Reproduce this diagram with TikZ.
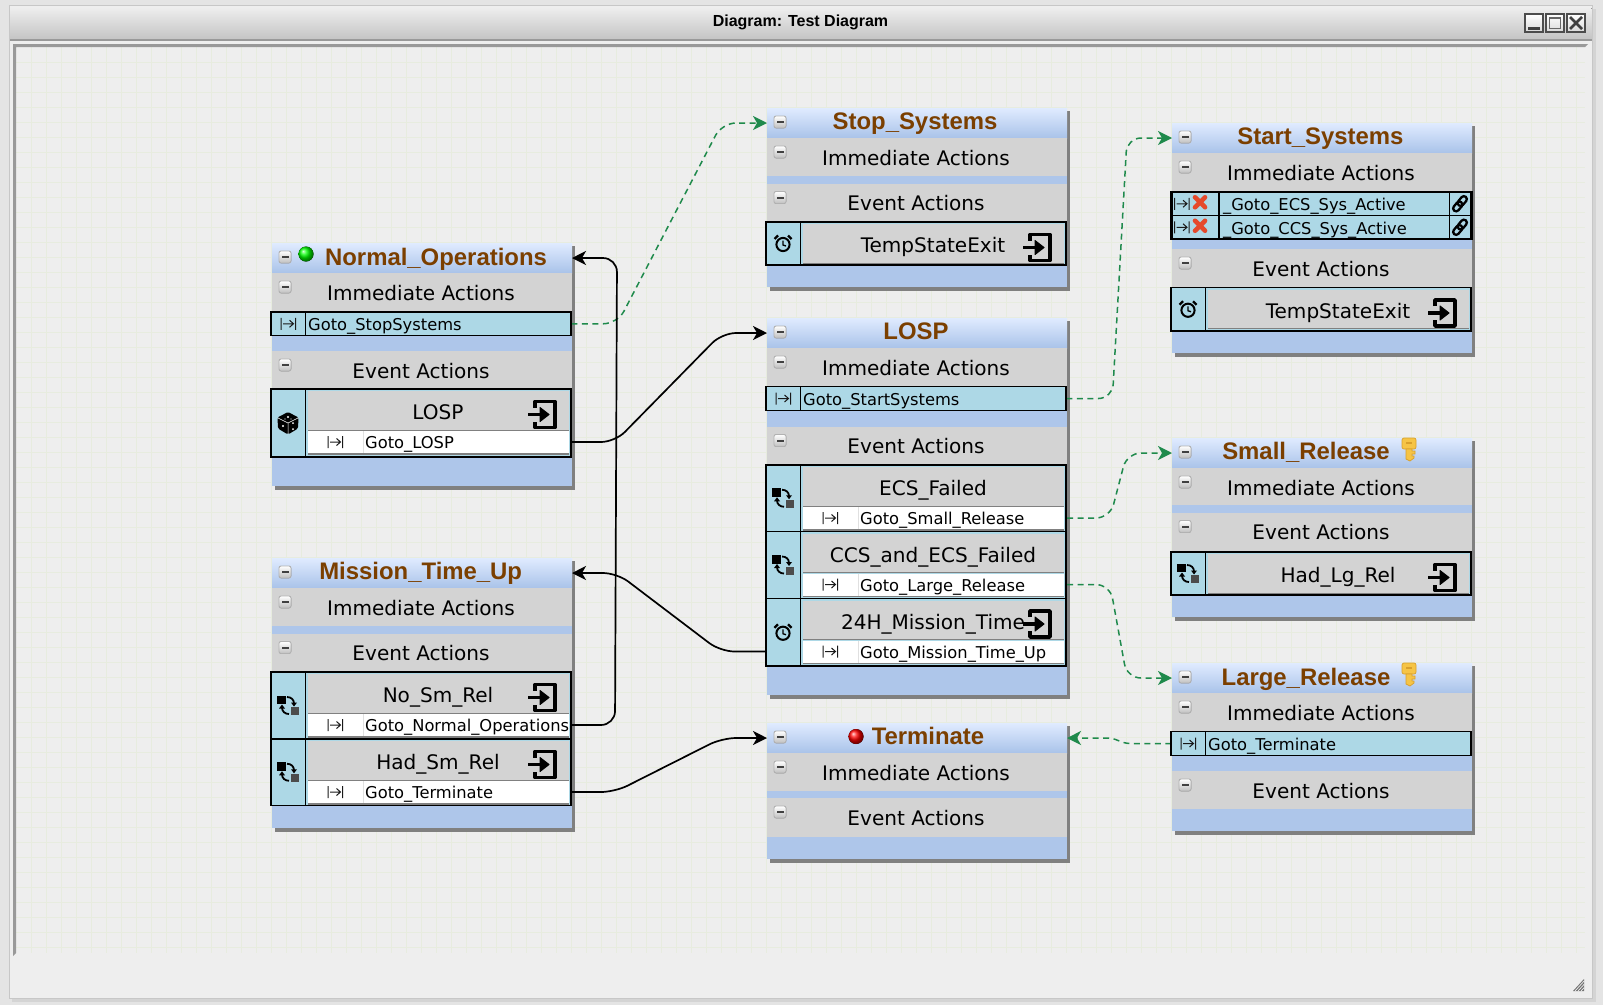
\documentclass[tikz,border=0pt]{standalone}
\usepackage{fontspec}
\setmainfont{DejaVu Sans}
\newfontfamily\libsans{Liberation Sans}
\usetikzlibrary{arrows.meta,calc,shadings}
\definecolor{pagec}{HTML}{E4E4E4}
\definecolor{winc}{HTML}{EEEEEE}
\definecolor{gridc}{HTML}{E7ECDF}
\definecolor{panelc}{HTML}{999999}
\definecolor{bodyc}{HTML}{AEC6EA}
\definecolor{headtop}{HTML}{E0EBFF}
\definecolor{headbot}{HTML}{A9C3E9}
\definecolor{greyc}{HTML}{D3D3D3}
\definecolor{rowc}{HTML}{ADD8E6}
\definecolor{titlec}{HTML}{7B3F00}
\definecolor{greenc}{HTML}{1F8A4C}
\definecolor{shadowc}{HTML}{808080}
\definecolor{goldc}{HTML}{F6C445}
\definecolor{golddark}{HTML}{D9A02C}
\definecolor{xred}{HTML}{E5492B}
\pgfdeclarelayer{back}
\pgfdeclarelayer{links}
\pgfsetlayers{back,links,main}
\tikzset{
  px/.style={anchor=north west,inner sep=0pt,outer sep=0pt},
  blockbody/.style={fill=bodyc},
  blockhead/.style={top color=headtop,bottom color=headbot},
  sectbox/.style={fill=greyc},
  rowbox/.style={fill=rowc,draw=black,line width=1.9pt},
  thinrow/.style={fill=rowc,draw=black,line width=1.1pt},
  framebox/.style={draw=black,line width=2.2pt},
  namecell/.style={fill=greyc},
  whitecell/.style={fill=white},
  titletext/.style={inner sep=0pt,anchor=base,text=titlec,font=\libsans\bfseries\fontsize{23.9}{28}\selectfont},
  bigtext/.style={inner sep=0pt,anchor=base,text=black,font=\fontsize{20.05}{24}\selectfont},
  smalltext/.style={inner sep=0pt,anchor=base west,text=black,font=\fontsize{16.3}{20}\selectfont},
  minusbox/.style={draw=black!30,rounded corners=2pt,line width=.9pt,top color=white,bottom color=black!25},
  conn/.style={rounded corners=14pt,-{Stealth[length=14pt,width=14pt,inset=4pt]}},
  blacklink/.style={conn,draw=black,line width=1.7pt},
  greenlink/.style={conn,draw=greenc,line width=1.5pt,dash pattern=on 6pt off 4.5pt},
  greensub/.style={greenlink,dash phase=7.5pt},
  greenshort/.style={greenlink,rounded corners=5pt},
  winbtn/.style={draw=black!70,line width=1.6pt,top color=white,bottom color=black!15},
}
\newcommand\pxbox[6]{\node[px,#1,minimum width={#5*1pt},minimum height={#6*1pt}] (#2) at (#3,#4) {};}
\newcommand\icMinus[2]{\begin{scope}[shift={(#1,#2)}]
  \fill[minusbox] (-6,-6) rectangle (6,6);
  \fill[black!75] (-3.5,-1) rectangle (3.5,1);
\end{scope}}
\newcommand\icGoto[2]{\begin{scope}[shift={(#1,#2)},draw=black!90,line width=1pt]
  \draw (-7,-6)--(-7,6) (7.5,-6)--(7.5,6) (-5,0)--(5,0) (1.5,-3.5)--(5.5,0)--(1.5,3.5);
\end{scope}}
\newcommand\icExit[2]{\begin{scope}[shift={(#1,#2-.5)},line width=3.6pt,line join=round]
  \draw (7,8)--(7,2)--(27,2)--(27,28)--(7,28)--(7,22);
  \draw (0,15)--(13,15);
  \fill[line width=1pt,draw=black] (12,8)--(21,15)--(12,22)--cycle;
\end{scope}}
\newcommand\icClock[2]{\begin{scope}[shift={(#1,#2)}]
  \draw[line width=2pt] (0,1) circle (6.6);
  \draw[line width=1.3pt] (0,-3)--(0,1.5)--(3,2.5);
  \draw[line width=2.2pt] (-8.5,-4.5)--(-5,-8) (8.5,-4.5)--(5,-8);
\end{scope}}
\newcommand\icSwap[2]{\begin{scope}[shift={(#1,#2)}]
  \fill[black] (-11,-10) rectangle (-2.5,-1.5);
  \fill[black!70] (2.5,1.5) rectangle (10.5,9.5);
  \draw[line width=1.8pt] (-1,-8.5) .. controls (3,-8.5) and (6,-6) .. (6,-2);
  \fill (3,-3)--(9,-3)--(6,1)--cycle;
  \draw[line width=1.8pt] (1,8.5) .. controls (-3,8.5) and (-6,6) .. (-6,2);
  \fill (-3,3)--(-9,3)--(-6,-1)--cycle;
\end{scope}}
\newcommand\icCube[2]{\begin{scope}[shift={(#1,#2)}]
  \fill[black,rounded corners=1.5pt] (0,-11)--(10.5,-5.5)--(10,5.5)--(0,11.5)--(-10,5.5)--(-10.5,-5.5)--cycle;
  \draw[white,line width=.5pt] (-10,-5)--(0,0)--(10,-5) (0,0)--(0,11);
  \fill[white] (0,-6) circle (1.2) (-5,3) circle (1.1) (5,0) circle (1) (5,6) circle (1) (-3,-4) circle (.7) (3,-4) circle (.7);
\end{scope}}
\newcommand\icCross[2]{\begin{scope}[shift={(#1,#2)}]
  \draw[xred,line width=4.6pt,line cap=round] (-5,-5)--(5,5) (5,-5)--(-5,5);
\end{scope}}
\newcommand\icChain[2]{\begin{scope}[shift={(#1,#2)},rotate=50]
  \draw[line width=2.3pt,rounded corners=3pt] (-9,-3)rectangle(2,3) (-2,-3)rectangle(9,3);
\end{scope}}
\newcommand\icKey[2]{\begin{scope}[shift={(#1,#2)}]
  \fill[goldc,draw=golddark,line width=.7pt,rounded corners=2pt] (-7,-11) rectangle (7,0);
  \fill[goldc,draw=golddark,line width=.7pt] (-3,0)--(3,0)--(3,2)--(6,2)--(6,5)--(3,5)--(3,7)--(5,7)--(5,9)--(1,12)--(-3,10)--cycle;
  \fill[golddark] (-3,-7.5) rectangle (3,-5.5);
\end{scope}}
\newcommand\stateblock[7]{% id x top bottom title titlecentre-offset title-baseline-offset
  \begin{pgfonlayer}{back}\fill[shadowc] (#2+3,#3+3) rectangle (#2+303,#4+3.5);\end{pgfonlayer}
  \pxbox{blockbody}{#1-body}{#2}{#3}{300}{#4-#3}
  \pxbox{blockhead}{#1}{#2}{#3}{300}{30}
  \icMinus{#2+13}{#3+14}
  \node[titletext] (#1-title) at (#2+#6,#3+#7) {#5};
}
\newcommand\sectbox[5]{% id x y h label
  \pxbox{sectbox}{#1}{#2}{#3}{300}{#4}
  \icMinus{#2+13}{#3+14}
  \node[bigtext] (#1-label) at (#2+149,#3+27) {#5};
}
\newcommand\gotorow[5]{% id x y h text
  \pxbox{rowbox}{#1}{#2-.6}{#3}{300}{#4}
  \draw[black,line width=1pt] (#2+33.5,#3)--(#2+33.5,#3+#4);
  \icGoto{#2+16}{#3+#4/2}
  \node[smalltext] (#1-text) at (#2+36,#3+18.8) {#5};
}
\newcommand\linkrow[5]{% id x y h text
  \pxbox{thinrow}{#1}{#2-.6}{#3}{300}{#4}
  \draw[black,line width=1.8pt] (#2+47,#3)--(#2+47,#3+#4);
  \draw[black,line width=1pt] (#2+277,#3)--(#2+277,#3+#4);
  \icGoto{#2+9.5}{#3+#4/2}
  \icCross{#2+28}{#3+#4/2-1.5}
  \icChain{#2+288}{#3+#4/2}
  \node[smalltext] (#1-text) at (#2+51,#3+18.6) {#5};
}
\newcommand\evrow[6]{% id x y h icon label
  \pxbox{rowbox}{#1}{#2-.6}{#3}{300}{#4}
  \draw[black,line width=1pt] (#2+33.5,#3)--(#2+33.5,#3+#4);
  #5{#2+16}{#3+#4/2}
  \pxbox{namecell}{#1-name}{#2+36}{#3+2}{261}{39}
  \draw[black!50,line width=1pt] (#2+36,#3+41)--(#2+297,#3+41);
  \node[bigtext] (#1-label) at (#2+166,#3+30.7) {#6};
}
\newcommand\subgoto[4]{% id x y text (y = top of owning row)
  \pxbox{whitecell}{#1}{#2+36}{#3+42}{261}{22}
  \draw[black!50,line width=1.8pt] (#2+36,#3+65)--(#2+297,#3+65);
  \draw[black!12,line width=.8pt] (#2+91,#3+42)--(#2+91,#3+64);
  \icGoto{#2+63}{#3+53}
  \node[smalltext] (#1-text) at (#2+93,#3+59.5) {#4};
}
\newcommand\linkto[5]{% style from sign1 to sign2
  \begin{pgfonlayer}{links}
  \draw[#1] (#2) -- ++(#3*46,0) -- ($(#4)+(#5*45,0)$) -- (#4);
  \end{pgfonlayer}
}
\begin{document}
\begin{tikzpicture}[x=1pt,y=-1pt]
\useasboundingbox (0,0) rectangle (1603,1005);
\begin{pgfonlayer}{back}
  \fill[pagec] (0,0) rectangle (1603,1005);
  \fill[black!17] (12,9) rectangle (1596,1002);
  \fill[winc,draw=black!22,line width=1pt] (9.5,5.5) rectangle (1592,998);
  \fill[top color=black!7,bottom color=black!23] (10,8) rectangle (1591.5,39);
  \fill[panelc] (10,39) rectangle (1591.5,41);
  \foreach \gx in {31,46,...,1576} \draw[gridc,line width=1pt] (\gx,47)--(\gx,953);
  \foreach \gy in {62,77,...,947} \draw[gridc,line width=1pt] (16,\gy)--(1585,\gy);
  \fill[panelc] (13,44)--(1588,44)--(1585,47)--(16,47)--(16,953)--(13,956)--cycle;
  \fill[black!55] (1584,979)--(1584,991)--(1573,991)--cycle;
  \foreach \d in {3,6,9} \draw[winc,line width=.7pt] (1584,991-\d*1.1)--(1584-\d,991);
\end{pgfonlayer}
\node[inner sep=0pt,anchor=base,font=\libsans\bfseries\fontsize{16}{18}\selectfont] (wintitle) at (800.5,26.5) {Diagram: Test Diagram};
\pxbox{winbtn}{btnmin}{1525}{14}{18}{18}
\fill[black!75] (1528,27)rectangle(1540,30);
\pxbox{winbtn}{btnmax}{1546}{14}{18}{18}
\draw[black!60,line width=1.2pt] (1549.5,18)rectangle(1560.5,28.5);
\pxbox{winbtn}{btnclose}{1567}{14}{18}{18}
\draw[black!75,line width=2.6pt] (1570,17)--(1582,29) (1582,17)--(1570,29);
% Normal_Operations
\stateblock{normal}{272}{243}{486}{Normal\_Operations}{164}{22}
\fill[ball color=green] (306,254) circle (7.5);
\sectbox{normal-imm}{272}{273}{39}{Immediate Actions}
\gotorow{normal-goto}{272}{312}{23.5}{Goto\_StopSystems}
\sectbox{normal-ev}{272}{351}{38}{Event Actions}
\evrow{normal-losp}{272}{389}{68}{\icCube}{LOSP}
\subgoto{normal-gl}{272}{389}{Goto\_LOSP}
\icExit{272+256}{389+11}
% Mission_Time_Up
\stateblock{mission}{272}{558}{828}{Mission\_Time\_Up}{148.7}{21}
\sectbox{mission-imm}{272}{588}{38}{Immediate Actions}
\sectbox{mission-ev}{272}{633.5}{38.5}{Event Actions}
\evrow{mission-no}{272}{672}{67}{\icSwap}{No\_Sm\_Rel}
\subgoto{mission-gn}{272}{672}{Goto\_Normal\_Operations}
\icExit{272+256}{672+11}
\evrow{mission-had}{272}{739}{66.5}{\icSwap}{Had\_Sm\_Rel}
\subgoto{mission-gt}{272}{739}{Goto\_Terminate}
\icExit{272+256}{739+11}
% Stop_Systems
\stateblock{stop}{767}{108}{287}{Stop\_Systems}{148}{21}
\sectbox{stop-imm}{767}{138}{38}{Immediate Actions}
\sectbox{stop-ev}{767}{183.5}{38.5}{Event Actions}
\evrow{stop-temp}{767}{222}{43}{\icClock}{TempStateExit}
\icExit{767+256}{222+11}
% LOSP
\stateblock{losp}{767}{318}{695}{LOSP}{149}{21}
\sectbox{losp-imm}{767}{348}{38.5}{Immediate Actions}
\gotorow{losp-goto}{767}{386.5}{24}{Goto\_StartSystems}
\sectbox{losp-ev}{767}{426.5}{38.5}{Event Actions}
\evrow{losp-ecs}{767}{465}{66.5}{\icSwap}{ECS\_Failed}
\subgoto{losp-gs}{767}{465}{Goto\_Small\_Release}
\evrow{losp-ccs}{767}{531.5}{67}{\icSwap}{CCS\_and\_ECS\_Failed}
\subgoto{losp-gl}{767}{531.5}{Goto\_Large\_Release}
\evrow{losp-24}{767}{598.5}{67.5}{\icClock}{24H\_Mission\_Time}
\subgoto{losp-gm}{767}{598.5}{Goto\_Mission\_Time\_Up}
\icExit{767+256}{598.5+11}
% Terminate
\stateblock{term}{767}{723}{859}{Terminate}{161}{21}
\fill[ball color=red] (856,736.5) circle (7.5);
\sectbox{term-imm}{767}{753}{38}{Immediate Actions}
\sectbox{term-ev}{767}{798}{39}{Event Actions}
% Start_Systems
\stateblock{start}{1172}{123}{353}{Start\_Systems}{148.5}{21}
\sectbox{start-imm}{1172}{153}{39}{Immediate Actions}
\linkrow{start-ecs}{1172}{192}{23.5}{\_Goto\_ECS\_Sys\_Active}
\linkrow{start-ccs}{1172}{215.5}{23.5}{\_Goto\_CCS\_Sys\_Active}
\pxbox{framebox}{start-frame}{1171.4}{192}{300}{47}
\sectbox{start-ev}{1172}{249}{38.5}{Event Actions}
\evrow{start-temp}{1172}{287.5}{43.5}{\icClock}{TempStateExit}
\icExit{1172+256}{287.5+11}
% Small_Release
\stateblock{small}{1172}{438}{617}{Small\_Release}{134}{21}
\icKey{1409}{449}
\sectbox{small-imm}{1172}{468}{37}{Immediate Actions}
\sectbox{small-ev}{1172}{512.5}{39.5}{Event Actions}
\evrow{small-had}{1172}{552}{43}{\icSwap}{Had\_Lg\_Rel}
\icExit{1172+256}{552+11}
% Large_Release
\stateblock{large}{1172}{663}{831}{Large\_Release}{134}{22}
\icKey{1409}{674}
\sectbox{large-imm}{1172}{693}{38.5}{Immediate Actions}
\gotorow{large-goto}{1172}{731.5}{24}{Goto\_Terminate}
\sectbox{large-ev}{1172}{771}{38}{Event Actions}
% connectors
\linkto{greenlink}{normal-goto.east}{1}{stop.west}{-1}
\linkto{blacklink}{normal-gl.east}{1}{losp.west}{-1}
\linkto{blacklink}{mission-gn.east}{1}{normal.east}{1}
\linkto{blacklink}{mission-gt.east}{1}{term.west}{-1}
\linkto{blacklink}{losp-24.west |- losp-gm.west}{-1}{mission.east}{1}
\linkto{greenlink}{losp-goto.east}{1}{start.west}{-1}
\linkto{greensub}{losp-gs.east}{1}{small.west}{-1}
\linkto{greensub}{losp-gl.east}{1}{large.west}{-1}
\linkto{greenshort}{large-goto.west}{-1}{term.east}{1}
\end{tikzpicture}
\end{document}
